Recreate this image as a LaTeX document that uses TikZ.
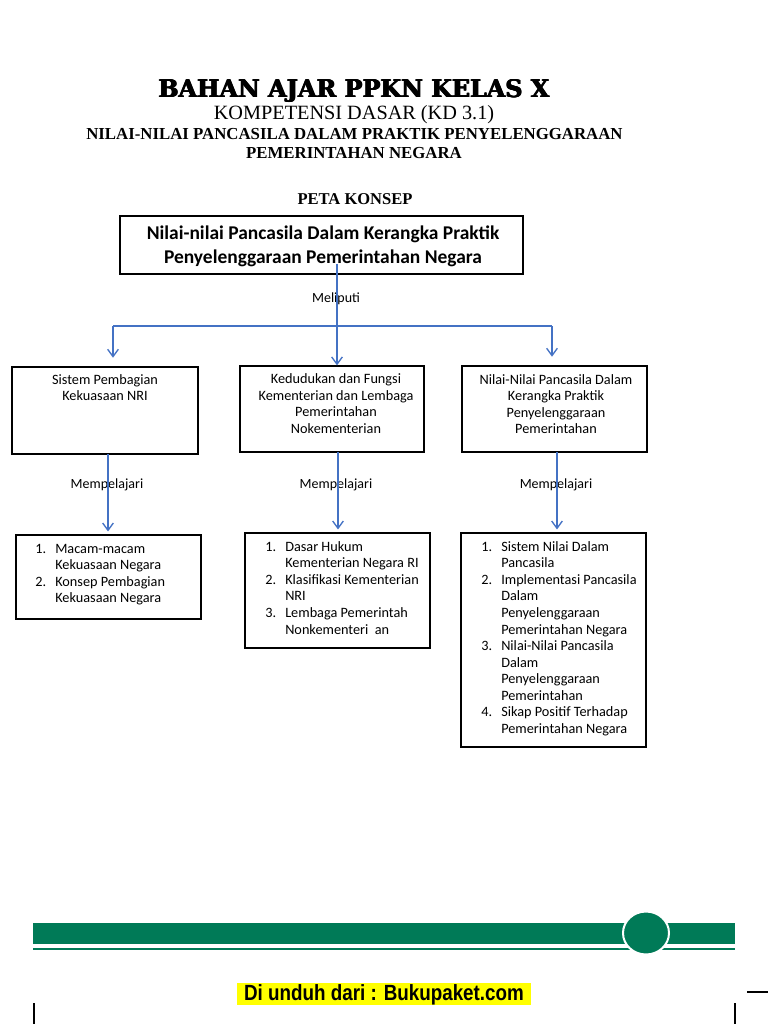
\documentclass[tikz,border=0pt]{standalone}
\usepackage{fontspec}
\usepackage{graphicx}
\setmainfont{Liberation Serif}
\newfontfamily\calfont{Carlito}
\newfontfamily\arialfont{Liberation Sans}
\newfontfamily\heavyfont{DejaVu Serif}
\newcommand\thicktext[1]{\makebox[0pt][l]{#1}\makebox[0pt][l]{\hspace{0.3pt}#1}\makebox[0pt][l]{\hspace{0.6pt}#1}\hspace{0.9pt}#1}
\usetikzlibrary{arrows.meta,fit}
\definecolor{connblue}{HTML}{4472C4}
\definecolor{bargreen}{HTML}{007A57}
\definecolor{hlyellow}{HTML}{FFFF00}
\begin{document}
\begin{tikzpicture}[x=0.75pt,y=-0.75pt,
  boxnode/.style={draw=black, line width=0.9pt, inner sep=0pt},
  arr/.style={draw=connblue, line width=1pt, -{Straight Barb[length=5.5pt,width=8pt,line width=1pt]}},
  lineb/.style={draw=connblue, line width=1pt},
  lbl/.style={font=\calfont\fontsize{10.5}{12}\selectfont, inner sep=0pt},
  boxtxt/.style={font=\calfont\fontsize{10.7}{12.4}\selectfont, align=center, inner sep=0pt, anchor=north},
  listtxt/.style={font=\calfont\fontsize{10.7}{12.4}\selectfont, inner sep=0pt, anchor=north west},
  ttl/.style={inner sep=0pt, anchor=base}
]
\useasboundingbox (0,0) rectangle (768,1024);

% titles
\node[ttl, font=\heavyfont\bfseries\fontsize{20}{24}\selectfont] (t1) at (354,98) {\resizebox{294pt}{13.5pt}{\thicktext{BAHAN AJAR PPKN KELAS X}}};
\node[ttl, font=\fontsize{15.2}{18}\selectfont] (t2) at (354,119) {KOMPETENSI DASAR (KD 3.1)};
\node[ttl, font=\bfseries\fontsize{12.6}{15}\selectfont] (t3) at (354.5,139) {NILAI-NILAI PANCASILA DALAM PRAKTIK PENYELENGGARAAN};
\node[ttl, font=\bfseries\fontsize{12.6}{15}\selectfont] (t4) at (354,158) {PEMERINTAHAN NEGARA};
\node[ttl, font=\bfseries\fontsize{12.4}{15}\selectfont] (t5) at (355,204) {PETA KONSEP};

% top box
\node[boxnode, fit={(120,216) (523,274)}] (top) {};
\node[font=\calfont\bfseries\fontsize{14.6}{18}\selectfont, align=center, inner sep=0pt, anchor=north] (toptxt) at (323,225.5)
  {Nilai-nilai Pancasila Dalam Kerangka Praktik\\Penyelenggaraan Pemerintahan Negara};

% middle boxes
\node[boxnode, fit={(12,367) (198,454)}] (ml) {};
\node[boxnode, fit={(240,366) (424,452)}] (mm) {};
\node[boxnode, fit={(462,366) (647,452)}] (mr) {};
\node[boxtxt] (mltxt) at (105,374) {Sistem Pembagian\\Kekuasaan NRI};
\node[boxtxt] (mmtxt) at (336,373.5) {Kedudukan dan Fungsi\\Kementerian dan Lembaga\\Pemerintahan\\Nokementerian};
\node[boxtxt] (mrtxt) at (556,374) {Nilai-Nilai Pancasila Dalam\\Kerangka Praktik\\Penyelenggaraan\\Pemerintahan};

% bottom boxes
\node[boxnode, fit={(16,535) (201,619)}] (bl) {};
\node[boxnode, fit={(245,533) (430,648)}] (bm) {};
\node[boxnode, fit={(461,533) (646,747)}] (br) {};
\node[listtxt] (bltxt) at (35,541.5) {\begin{tabular}{@{}p{15pt}@{}l@{}}
1. & Macam-macam\\ & Kekuasaan Negara\\ 2. & Konsep Pembagian\\ & Kekuasaan Negara\end{tabular}};
\node[listtxt] (bmtxt) at (265,539.5) {\begin{tabular}{@{}p{15pt}@{}l@{}}
1. & Dasar Hukum\\ & Kementerian Negara RI\\ 2. & Klasifikasi Kementerian\\ & NRI\\ 3. & Lembaga Pemerintah\\ & Nonkementeri\ \ an\end{tabular}};
\node[listtxt] (brtxt) at (481,539.5) {\begin{tabular}{@{}p{15pt}@{}l@{}}
1. & Sistem Nilai Dalam\\ & Pancasila\\ 2. & Implementasi Pancasila\\ & Dalam\\ & Penyelenggaraan\\ & Pemerintahan Negara\\
3. & Nilai-Nilai Pancasila\\ & Dalam\\ & Penyelenggaraan\\ & Pemerintahan\\ 4. & Sikap Positif Terhadap\\ & Pemerintahan Negara\end{tabular}};

% labels
\node[lbl] (lmeliputi) at (336,299) {Meliputi};
\node[lbl] (lmp1) at (107,485) {Mempelajari};
\node[lbl] (lmp2) at (336,485) {Mempelajari};
\node[lbl] (lmp3) at (556,485) {Mempelajari};

% connectors
\coordinate (mstart) at (337,264);
\coordinate (hl) at (113,326);
\coordinate (hr) at (552,326);
\draw[arr] (mstart) -- (mstart |- mm.north);
\draw[lineb] (hl) -- (hr);
\draw[arr, shorten >=6.5pt] (hl) -- (hl |- ml.north);
\draw[arr, shorten >=6.5pt] (hr) -- (hr |- mr.north);

\coordinate (sl) at (108,454);
\coordinate (sm) at (338,452);
\coordinate (sr) at (557,452);
\draw[arr, shorten >=2.2pt] (sl) -- (sl |- bl.north);
\draw[arr, shorten >=2.2pt] (sm) -- (sm |- bm.north);
\draw[arr, shorten >=2.2pt] (sr) -- (sr |- br.north);

% footer bar
\fill[bargreen] (33,923) rectangle (735,944);
\fill[bargreen] (33,947.5) rectangle (735,949.5);
\filldraw[fill=bargreen, draw=white, line width=1.5pt] (646,933) ellipse [x radius=23, y radius=21.5];

% footer text
\fill[hlyellow] (237,983) rectangle (531,1005);
\node[inner sep=0pt, anchor=base, font=\arialfont\bfseries\fontsize{16.5}{18}\selectfont] (dl) at (384,1000.5) {\scalebox{0.855}[1]{Di unduh dari : Bukupaket.com}};

% crop marks
\draw[black, line width=0.8pt] (34,1003) -- (34,1024);
\draw[black, line width=0.8pt] (735,1003) -- (735,1024);
\draw[black, line width=0.8pt] (747,992) -- (768,992);
\end{tikzpicture}
\end{document}
